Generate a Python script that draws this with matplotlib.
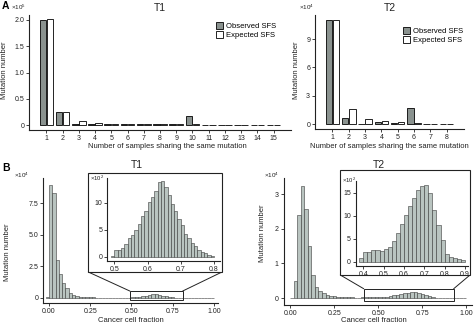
import matplotlib
matplotlib.use("Agg")
import matplotlib.pyplot as plt
from matplotlib.patches import Rectangle, ConnectionPatch
import numpy as np

plt.rcParams['font.family'] = ['Liberation Sans', 'DejaVu Sans']
plt.rcParams['mathtext.fontset'] = 'custom'
plt.rcParams['mathtext.rm'] = 'Liberation Sans'
plt.rcParams['mathtext.default'] = 'regular'

# ---- site frequency spectra (counts in units shown on the axes) ----
sfs_t1_n = list(range(1, 16))
sfs_t1_obs = [2.00, 0.25, 0.01, 0.02, 0.02, 0.012, 0.01, 0.01, 0.01, 0.165,
              0.008, 0.008, 0.008, 0.008, 0.008]          # x1e5
sfs_t1_exp = [2.01, 0.25, 0.082, 0.045, 0.028, 0.018, 0.012, 0.01, 0.01, 0.01,
              0.008, 0.008, 0.008, 0.008, 0.008]          # x1e5

sfs_t2_n = list(range(1, 9))
sfs_t2_obs = [11.0, 0.64, 0.05, 0.25, 0.10, 1.73, 0.05, 0.05]   # x1e4
sfs_t2_exp = [11.05, 1.59, 0.53, 0.30, 0.18, 0.10, 0.05, 0.05]  # x1e4

# ---- cancer cell fraction histograms ----
ccf_t1_start, ccf_t1_bin = -0.02, 0.02
ccf_t1 = [0.05, 8.95, 8.30, 3.00, 1.88, 1.19, 0.80, 0.40, 0.20, 0.10,
          0.06, 0.04, 0.03, 0.02, 0.02, 0.015, 0.012, 0.01, 0.01, 0.008,
          0.006, 0.005, 0.005, 0.004, 0.004, 0.008, 0.026, 0.041, 0.075, 0.110,
          0.161, 0.213, 0.261, 0.269, 0.212, 0.155, 0.101, 0.061, 0.032, 0.015,
          0.006, 0.002, 0, 0, 0, 0, 0, 0, 0, 0, 0]        # x1e4

ccf_t1_zoom_start, ccf_t1_zoom_bin = 0.49, 0.01
ccf_t1_zoom = [0.1, 1.3, 1.3, 1.7, 2.4, 3.4, 4.1, 5.0, 6.0, 7.6, 8.5, 10.2,
               11.1, 12.3, 13.8, 14.0, 12.9, 11.4, 9.8, 8.5, 7.0, 5.8, 4.3,
               3.5, 2.6, 1.9, 1.3, 0.9, 0.6, 0.4, 0.2]     # x1e2

ccf_t2_start, ccf_t2_bin = 0.0, 0.02
ccf_t2 = [0, 0.48, 2.41, 3.24, 2.56, 1.49, 0.68, 0.33, 0.21, 0.14,
          0.10, 0.07, 0.05, 0.04, 0.03, 0.025, 0.02, 0.02, 0.015, 0.0075,
          0.0225, 0.022, 0.026, 0.026, 0.024, 0.028, 0.032, 0.045, 0.062, 0.082,
          0.102, 0.122, 0.140, 0.156, 0.166, 0.167, 0.150, 0.112, 0.080, 0.048,
          0.018, 0.010, 0.008, 0.007, 0.004, 0, 0, 0, 0, 0]  # x1e4

ccf_t2_zoom_start, ccf_t2_zoom_bin = 0.38, 0.02
ccf_t2_zoom = [0.75, 2.25, 2.2, 2.6, 2.6, 2.4, 2.8, 3.2, 4.5, 6.2, 8.2, 10.2,
               12.2, 14.0, 15.6, 16.6, 16.7, 15.0, 11.2, 8.0, 4.8, 1.8, 1.0,
               0.8, 0.7, 0.4]                               # x1e2

OBS_C = '#8a928f'
HIST_C = '#b9c4c0'
EDGE_C = '#3a3a3a'
TXT_C = '#222222'
TICK_FS = 5.0
LAB_FS = 5.5

W, H = 474, 325
fig = plt.figure(figsize=(W / 100, H / 100), dpi=100)


def add_ax(l, t, r, b):
    # pixel box (left, top, right, bottom) -> figure axes
    return fig.add_axes([l / W, 1 - b / H, (r - l) / W, (b - t) / H])


def fx(x):
    return x / W


def fy(y):
    return 1 - y / H


def style(ax):
    for s in ('top', 'right'):
        ax.spines[s].set_visible(False)
    for s in ('left', 'bottom'):
        ax.spines[s].set_linewidth(0.8)
        ax.spines[s].set_color(TXT_C)
    ax.tick_params(length=2, width=0.6, labelsize=TICK_FS, pad=1.5,
                   colors=TXT_C)
    ax.patch.set_alpha(0)


def hist(ax, start, step, vals):
    edges = start + step * np.arange(len(vals))
    ax.bar(edges, vals, width=step, align='edge', color=HIST_C,
           edgecolor=EDGE_C, linewidth=0.4)


def sfs(ax, n, obs, exp):
    n = np.array(n)
    b1 = ax.bar(n - 0.22, obs, width=0.4, color=OBS_C, edgecolor='black',
                linewidth=0.6, label='Observed SFS')
    b2 = ax.bar(n + 0.22, exp, width=0.4, color='white', edgecolor='black',
                linewidth=0.6, label='Expected SFS')
    return b1, b2


def inset_frame(l, t, r, b, main_ax, xa0, xa1, ya):
    # white box behind the zoomed panel, tied to the marked region
    fig.patches.append(Rectangle((fx(l), fy(b)), fx(r) - fx(l), fy(t) - fy(b),
                                 transform=fig.transFigure, facecolor='white',
                                 edgecolor=TXT_C, linewidth=0.8, zorder=2))
    for xa, xb in ((xa0, l), (xa1, r)):
        fig.add_artist(ConnectionPatch(xyA=(xa, ya), coordsA=main_ax.transData,
                                       xyB=(fx(xb), fy(b)),
                                       coordsB=fig.transFigure,
                                       color=TXT_C, linewidth=0.7, zorder=2))


# ================= A: T1 =================
ax = add_ax(29, 14.75, 291, 130.25)
style(ax)
h = sfs(ax, sfs_t1_n, sfs_t1_obs, sfs_t1_exp)
ax.set_xlim(-0.07, 16.07)
ax.set_ylim(-0.1, 2.1)
ax.set_xticks(sfs_t1_n)
ax.set_yticks([0, 0.5, 1.0, 1.5, 2.0])
ax.set_yticklabels(['0', '0.5', '1.0', '1.5', '2.0'])
ax.legend(handles=h, frameon=False, loc='upper left', fontsize=LAB_FS,
          bbox_to_anchor=(fx(216), fy(22)), bbox_transform=fig.transFigure,
          borderpad=0, handlelength=0.9, handleheight=1.0, handletextpad=0.4,
          labelspacing=0.1, borderaxespad=0)
fig.text(fx(160), fy(8), 'T1', ha='center', va='center', fontsize=7.5, color=TXT_C)
fig.text(fx(11), fy(7), '×10$^5$', ha='left', va='center', fontsize=4.5, color=TXT_C)
fig.text(fx(5), fy(70), 'Mutation number', rotation=90, ha='center', va='center',
         fontsize=LAB_FS, color=TXT_C)
fig.text(fx(167), fy(146), 'Number of samples sharing the same mutation',
         ha='center', va='center', fontsize=LAB_FS, color=TXT_C)

# ================= A: T2 =================
ax = add_ax(315, 15, 464, 129.3)
style(ax)
h = sfs(ax, sfs_t2_n, sfs_t2_obs, sfs_t2_exp)
ax.set_xlim(-0.07, 9.07)
ax.set_ylim(-0.55, 11.55)
ax.set_xticks(sfs_t2_n)
ax.set_yticks([0, 3, 6, 9])
ax.legend(handles=h, frameon=False, loc='upper left', fontsize=LAB_FS,
          bbox_to_anchor=(fx(403), fy(27)), bbox_transform=fig.transFigure,
          borderpad=0, handlelength=0.9, handleheight=1.0, handletextpad=0.4,
          labelspacing=0.1, borderaxespad=0)
fig.text(fx(390), fy(8), 'T2', ha='center', va='center', fontsize=7.5, color=TXT_C)
fig.text(fx(299), fy(7), '×10$^4$', ha='left', va='center', fontsize=4.5, color=TXT_C)
fig.text(fx(297), fy(70), 'Mutation number', rotation=90, ha='center', va='center',
         fontsize=LAB_FS, color=TXT_C)
fig.text(fx(389), fy(146), 'Number of samples sharing the same mutation',
         ha='center', va='center', fontsize=LAB_FS, color=TXT_C)

# ================= B: T1 =================
ax = add_ax(43, 178.3, 218, 303)
style(ax)
hist(ax, ccf_t1_start, ccf_t1_bin, ccf_t1)
ax.set_xlim(-0.036, 1.024)
ax.set_ylim(-0.42, 9.48)
ax.set_xticks([0, 0.25, 0.5, 0.75, 1.0])
ax.set_xticklabels(['0.00', '0.25', '0.50', '0.75', '1.00'])
ax.set_yticks([0, 2.5, 5.0, 7.5])
ax.set_yticklabels(['0', '2.5', '5.0', '7.5'])
ax.add_patch(Rectangle((0.49, -0.18), 0.32, 0.71, fill=False,
                       edgecolor=TXT_C, linewidth=0.7, zorder=3))
fig.text(fx(137), fy(165), 'T1', ha='center', va='center', fontsize=7.5, color=TXT_C)
fig.text(fx(14), fy(175), '×10$^4$', ha='left', va='center', fontsize=4.5, color=TXT_C)
fig.text(fx(8), fy(252), 'Mutation number', rotation=90, ha='center', va='center',
         fontsize=LAB_FS, color=TXT_C)
fig.text(fx(131), fy(320.5), 'Cancer cell fraction', ha='center', va='center',
         fontsize=LAB_FS, color=TXT_C)
inset_frame(88.3, 173, 222, 272, ax, 0.49, 0.81, 0.53)

ax = add_ax(107, 177.6, 219.7, 260.7)
ax.set_zorder(3)
style(ax)
hist(ax, ccf_t1_zoom_start, ccf_t1_zoom_bin, ccf_t1_zoom)
ax.set_xlim(0.478, 0.817)
ax.set_ylim(-0.75, 14.7)
ax.set_xticks([0.5, 0.6, 0.7, 0.8])
ax.set_yticks([0, 5, 10])
t = fig.text(fx(90), fy(178), '×10$^2$', ha='left', va='center', fontsize=4.2,
             color=TXT_C)
t.set_zorder(4)

# ================= B: T2 =================
ax = add_ax(283.7, 178.3, 472, 305)
style(ax)
hist(ax, ccf_t2_start, ccf_t2_bin, ccf_t2)
ax.set_xlim(-0.0375, 1.032)
ax.set_ylim(-0.2, 3.46)
ax.set_xticks([0, 0.25, 0.5, 0.75, 1.0])
ax.set_xticklabels(['0.00', '0.25', '0.50', '0.75', '1.00'])
ax.set_yticks([0, 1, 2, 3])
ax.add_patch(Rectangle((0.417, -0.09), 0.511, 0.36, fill=False,
                       edgecolor=TXT_C, linewidth=0.7, zorder=3))
fig.text(fx(379), fy(165), 'T2', ha='center', va='center', fontsize=7.5, color=TXT_C)
fig.text(fx(264), fy(175), '×10$^4$', ha='left', va='center', fontsize=4.5, color=TXT_C)
fig.text(fx(262), fy(233), 'Mutation number', rotation=90, ha='center', va='center',
         fontsize=LAB_FS, color=TXT_C)
fig.text(fx(374), fy(320.5), 'Cancer cell fraction', ha='center', va='center',
         fontsize=LAB_FS, color=TXT_C)
inset_frame(340.3, 170, 470, 275, ax, 0.417, 0.928, 0.27)

ax = add_ax(355.7, 181, 468, 266)
ax.set_zorder(3)
style(ax)
hist(ax, ccf_t2_zoom_start, ccf_t2_zoom_bin, ccf_t2_zoom)
ax.set_xlim(0.363, 0.915)
ax.set_ylim(-0.9, 17.6)
ax.set_xticks([0.4, 0.5, 0.6, 0.7, 0.8, 0.9])
ax.set_yticks([0, 5, 10, 15])
t = fig.text(fx(342), fy(180), '×10$^2$', ha='left', va='center', fontsize=4.2,
             color=TXT_C)
t.set_zorder(4)

# panel letters
fig.text(fx(2), fy(6), 'A', ha='left', va='center', fontsize=7.5, fontweight='bold')
fig.text(fx(2), fy(168), 'B', ha='left', va='center', fontsize=7.5, fontweight='bold')

fig.savefig('out.png', dpi=100)
